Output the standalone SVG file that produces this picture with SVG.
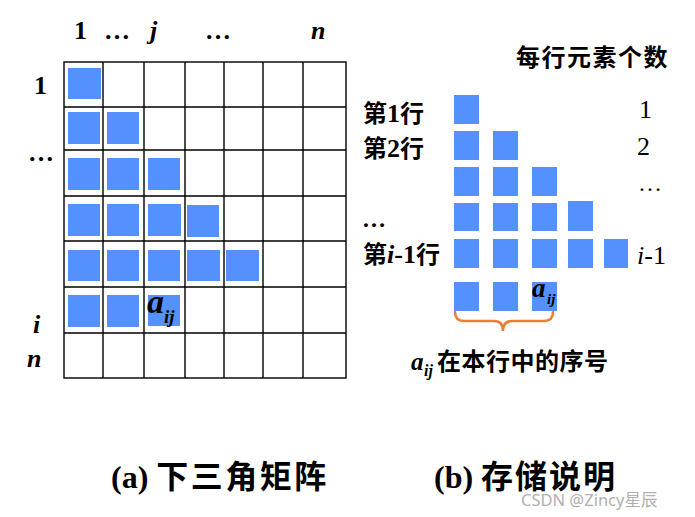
<svg xmlns="http://www.w3.org/2000/svg" width="695" height="517" viewBox="0 0 695 517">
<style>
.bg{fill:#ffffff}
.cell{fill:#5590ff}
.grid{stroke:#000;stroke-width:1.4;fill:none}
.lb{font-family:"Liberation Serif","Times New Roman",serif;font-weight:bold;fill:#000}
.lbi{font-family:"Liberation Serif","Times New Roman",serif;font-weight:bold;font-style:italic;fill:#000}
.num{font-family:"Liberation Serif","Times New Roman",serif;fill:#000}
.cjk{font-family:"Liberation Serif","Noto Sans CJK SC",serif;font-weight:bold;fill:#000}
.brace{stroke:#ed7d31;stroke-width:2.5;fill:none;stroke-linecap:round}
.wm{font-family:"Noto Sans","Noto Sans CJK SC",sans-serif;fill:#b0b0b0}
</style>
<rect class="bg" x="0" y="0" width="695" height="517"/>

<g id="matrix-cells">
  <rect class="cell" x="68" y="68" width="33" height="31"/>
  <rect class="cell" x="68" y="112" width="32" height="32"/>
  <rect class="cell" x="107" y="112" width="32" height="32"/>
  <rect class="cell" x="68" y="158" width="32" height="32"/>
  <rect class="cell" x="107" y="158" width="32" height="32"/>
  <rect class="cell" x="148" y="158" width="32" height="32"/>
  <rect class="cell" x="68" y="204" width="32" height="32"/>
  <rect class="cell" x="107" y="204" width="32" height="32"/>
  <rect class="cell" x="148" y="204" width="33" height="32"/>
  <rect class="cell" x="187" y="205" width="32" height="32"/>
  <rect class="cell" x="68" y="250" width="32" height="31"/>
  <rect class="cell" x="107" y="250" width="32" height="31"/>
  <rect class="cell" x="148" y="250" width="32" height="31"/>
  <rect class="cell" x="187" y="250" width="33" height="31"/>
  <rect class="cell" x="226" y="250" width="33" height="31"/>
  <rect class="cell" x="68" y="295" width="32" height="32"/>
  <rect class="cell" x="107" y="295" width="32" height="32"/>
  <rect class="cell" x="148" y="295" width="32" height="31"/>
</g>

<g id="matrix-grid">
  <rect class="grid" x="64" y="62" width="282" height="316"/>
  <path class="grid" d="M103,62V378M144,62V378M185,62V378M224,62V378M263,62V378M303,62V378M64,107H346M64,150H346M64,196H346M64,241H346M64,287H346M64,333H346"/>
</g>

<g id="matrix-aij">
  <text class="lbi" x="147" y="313" font-size="34">a</text>
  <text class="lbi" x="164" y="323" font-size="19">ij</text>
</g>

<g id="col-labels">
  <text class="lb" x="74" y="39" font-size="26">1</text>
  <text class="lb" x="104" y="39" font-size="26">…</text>
  <text class="lbi" x="150" y="39" font-size="26">j</text>
  <text class="lb" x="205" y="39" font-size="26">…</text>
  <text class="lbi" x="311" y="39" font-size="26">n</text>
</g>

<g id="row-labels">
  <text class="lb" x="34" y="94" font-size="26">1</text>
  <text class="lb" x="28" y="161" font-size="26">…</text>
  <text class="lbi" x="33" y="333" font-size="26">i</text>
  <text class="lbi" x="27" y="367" font-size="26">n</text>
</g>

<g id="storage-header">
  <text class="cjk" x="516" y="66" font-size="24" letter-spacing="1.5">每行元素个数</text>
</g>

<g id="storage-cells">
  <rect class="cell" x="454" y="95" width="25" height="29"/>
  <rect class="cell" x="454" y="131" width="25" height="29"/>
  <rect class="cell" x="493" y="131" width="25" height="29"/>
  <rect class="cell" x="454" y="167" width="25" height="29"/>
  <rect class="cell" x="493" y="167" width="25" height="29"/>
  <rect class="cell" x="532" y="167" width="25" height="29"/>
  <rect class="cell" x="454" y="203" width="25" height="28"/>
  <rect class="cell" x="493" y="203" width="25" height="28"/>
  <rect class="cell" x="532" y="203" width="25" height="28"/>
  <rect class="cell" x="568" y="201" width="25" height="30"/>
  <rect class="cell" x="454" y="239" width="25" height="29"/>
  <rect class="cell" x="493" y="239" width="25" height="29"/>
  <rect class="cell" x="532" y="239" width="25" height="29"/>
  <rect class="cell" x="568" y="239" width="25" height="29"/>
  <rect class="cell" x="604" y="239" width="24" height="29"/>
  <rect class="cell" x="454" y="282" width="25" height="29"/>
  <rect class="cell" x="493" y="282" width="25" height="29"/>
  <rect class="cell" x="532" y="282" width="25" height="29"/>
  <text class="lbi" x="532" y="297" font-size="27">a</text>
  <text class="lbi" x="547" y="304" font-size="15">ij</text>
</g>

<g id="storage-row-labels">
  <text class="cjk" x="363" y="122" font-size="24">第<tspan class="lb" font-size="26">1</tspan>行</text>
  <text class="cjk" x="363" y="157" font-size="24">第<tspan class="lb" font-size="26">2</tspan>行</text>
  <text class="lb" x="362" y="227" font-size="24">…</text>
  <text class="cjk" x="363" y="263" font-size="24">第<tspan class="lbi" font-size="26">i</tspan><tspan class="lb" font-size="26">-1</tspan>行</text>
</g>

<g id="storage-counts">
  <text class="num" x="639" y="118" font-size="26">1</text>
  <text class="num" x="637" y="155" font-size="26">2</text>
  <text class="num" x="638" y="191" font-size="24">…</text>
  <text class="num" x="637" y="264" font-size="26"><tspan font-style="italic">i</tspan>-1</text>
</g>

<g id="connectors">
  <path class="brace" d="M455,312 Q455,321 464,321 H494 Q503,321 503,331 Q503,321 512,321 H544 Q553,321 553,312"/>
</g>

<g id="brace-label">
  <text class="lbi" x="411" y="370" font-size="25">a</text>
  <text class="lbi" x="424" y="376" font-size="16">ij</text>
  <text class="cjk" x="437" y="370" font-size="24" letter-spacing="0.5">在本行中的序号</text>
</g>

<g id="captions">
  <text class="cjk" x="111" y="488" font-size="32" letter-spacing="2.5"><tspan class="lb" letter-spacing="0">(a) </tspan>下三角矩阵</text>
  <text class="cjk" x="434" y="488" font-size="32" letter-spacing="2"><tspan class="lb" letter-spacing="0">(b) </tspan>存储说明</text>
</g>

<text class="wm" x="521" y="506" font-size="16.5">CSDN @Zincy星辰</text>
</svg>
